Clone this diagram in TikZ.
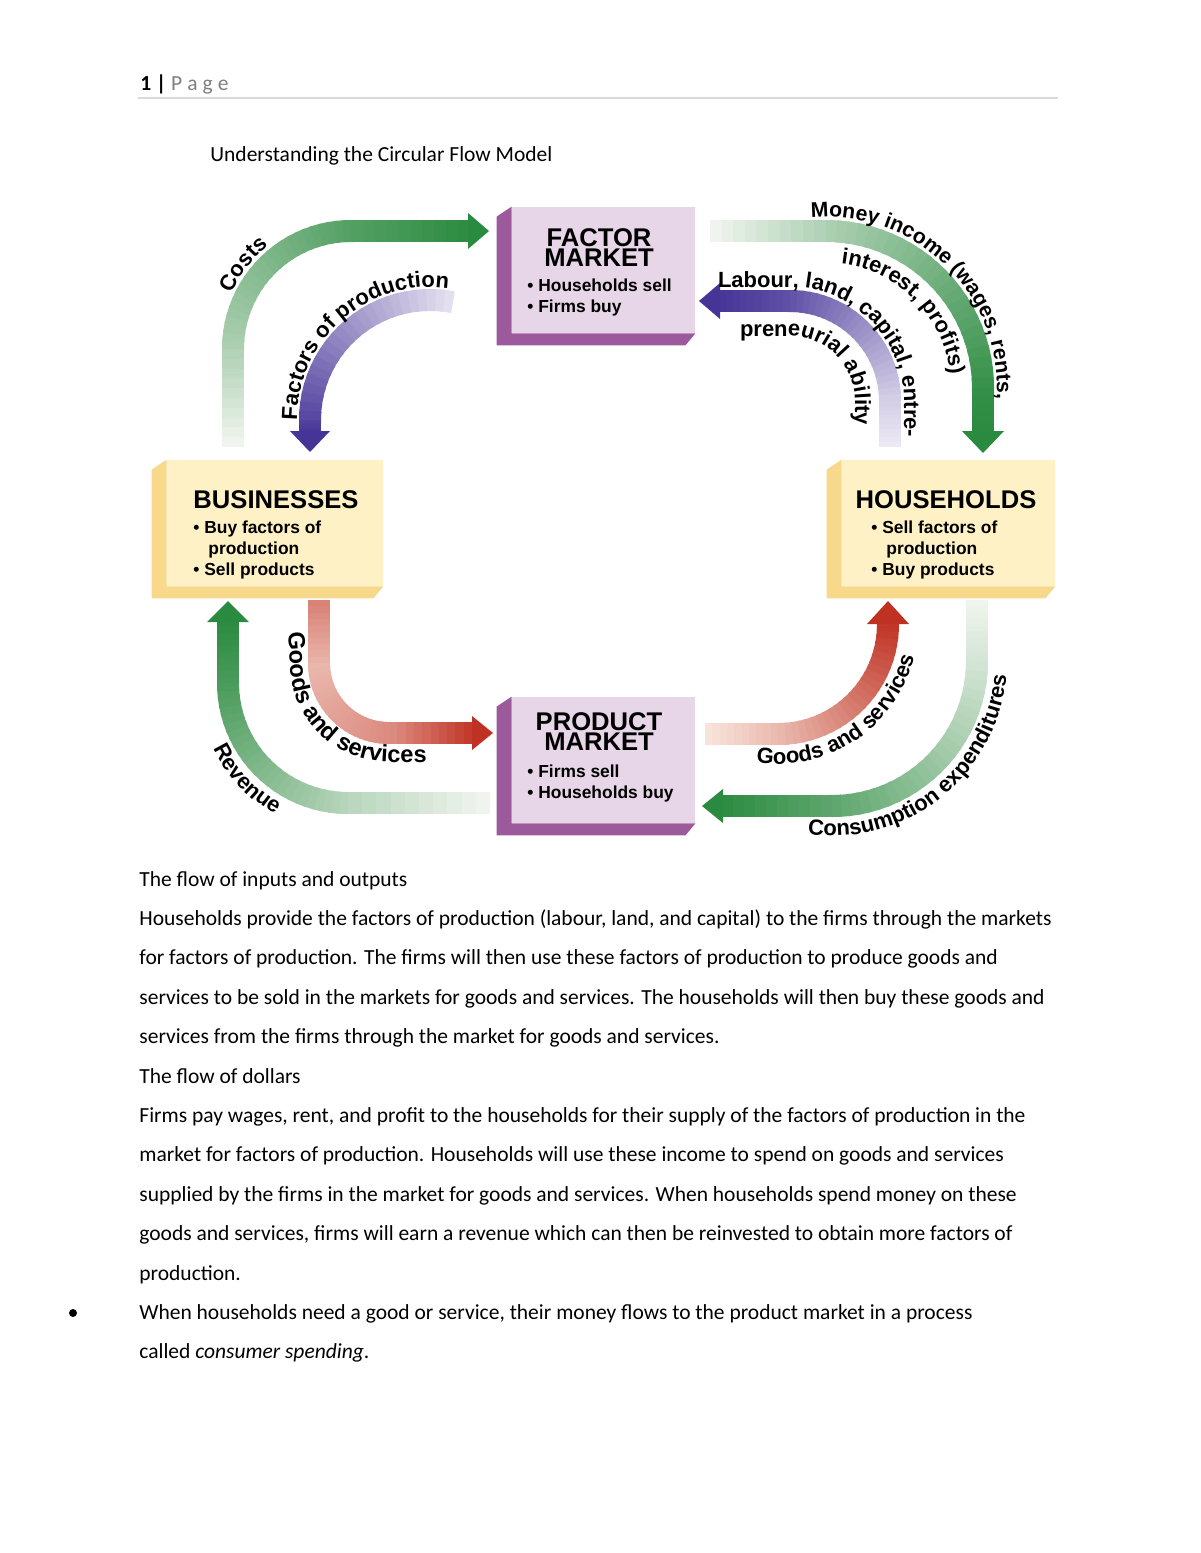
\documentclass[tikz,border=0pt]{standalone}
\usepackage{fontspec}
\setmainfont{Carlito}
\setsansfont{Liberation Sans}
\usetikzlibrary{decorations.text}
\definecolor{grnF}{HTML}{2A8A3F}
\definecolor{grnP}{HTML}{F0F4EE}
\definecolor{purF}{HTML}{463497}
\definecolor{purP}{HTML}{ECE8F4}
\definecolor{redF}{HTML}{BF3223}
\definecolor{redP}{HTML}{F8E3DA}
\definecolor{mktF}{HTML}{E7D5E8}
\definecolor{mktS}{HTML}{9C5A9C}
\definecolor{agtF}{HTML}{FEF1C6}
\definecolor{agtS}{HTML}{F8D98C}
\newcommand\bandarc[9]{%
  \foreach \k in {0,...,23}{%
    \pgfmathsetmacro\bandA{#4+(#5-#4)*\k/24}%
    \pgfmathsetmacro\bandB{#4+(#5-#4)*(\k+1.4)/24}%
    \pgfmathsetmacro\bandP{#8+(#9-#8)*\k/24}%
    \draw[line width=11pt, draw=#7!\bandP!#6] plot[domain=\bandA:\bandB, samples=4, variable=\q] ({#1+#3*cos(\q)},{#2+#3*sin(\q)});
  }}
\newcommand\bandline[8]{%
  \foreach \k in {0,...,9}{%
    \pgfmathsetmacro\bandA{\k/10}%
    \pgfmathsetmacro\bandB{(\k+1.3)/10}%
    \pgfmathsetmacro\bandP{#7+(#8-#7)*\k/10}%
    \draw[line width=11pt, draw=#6!\bandP!#5] ({#1+(#3-#1)*\bandA},{#2+(#4-#2)*\bandA}) -- ({#1+(#3-#1)*\bandB},{#2+(#4-#2)*\bandB});
  }}
\begin{document}
\begin{tikzpicture}[x=0.5pt,y=-0.5pt,
  body/.style={font=\fontsize{10.75}{13}\selectfont, anchor=base west, inner sep=0pt},
  ttl/.style={font=\sffamily\bfseries\fontsize{12.8}{14}\selectfont, inner sep=0pt, anchor=base},
  bul/.style={font=\sffamily\bfseries\fontsize{8.7}{10}\selectfont, inner sep=0pt, anchor=base west},
  mkt/.style={fill=mktF, minimum width=91.5pt, minimum height=63pt, inner sep=0pt},
  agt/.style={fill=agtF, minimum height=63pt, inner sep=0pt},
  txtpath/.style 2 args={decorate, decoration={text along path, text={|\sffamily\bfseries\fontsize{#2}{13}\selectfont|#1}}}
]
\fill[white] (0,0) rectangle (1200,1553);
\useasboundingbox (0,0) rectangle (1200,1553);

% header
\node[body] (pg) at (140,90) {\textbf{1 |} \textcolor{black!50}{P\hspace{2.5pt}a\hspace{2.5pt}g\hspace{2.5pt}e}};
\draw[black!15, line width=0.75pt] (138,98) -- (1058,98);
\node[body] (title) at (210,161) {Understanding the Circular Flow Model};

% boxes
\node[mkt] (fm) at (603.5,270) {};
\fill[mktS] (fm.north west) -- ([shift={(-15,10)}]fm.north west) -- ([shift={(-15,12)}]fm.south west) -- ([shift={(-10,12)}]fm.south east) -- (fm.south east) -- (fm.south west) -- cycle;
\node[mkt] (pm) at (603.5,760) {};
\fill[mktS] (pm.north west) -- ([shift={(-15,10)}]pm.north west) -- ([shift={(-15,12)}]pm.south west) -- ([shift={(-10,12)}]pm.south east) -- (pm.south east) -- (pm.south west) -- cycle;
\node[agt, minimum width=108pt] (bus) at (275,523) {};
\fill[agtS] (bus.north west) -- ([shift={(-15,10)}]bus.north west) -- ([shift={(-15,12)}]bus.south west) -- ([shift={(-10,12)}]bus.south east) -- (bus.south east) -- (bus.south west) -- cycle;
\node[agt, minimum width=106.5pt] (hh) at (948.5,523) {};
\fill[agtS] (hh.north west) -- ([shift={(-15,10)}]hh.north west) -- ([shift={(-15,12)}]hh.south west) -- ([shift={(-10,12)}]hh.south east) -- (hh.south east) -- (hh.south west) -- cycle;

\node[ttl] (fmt1) at (599,246) {FACTOR};
\node[ttl] (fmt2) at (599,266) {MARKET};
\node[bul] (fmb1) at (527,291) {• Households sell};
\node[bul] (fmb2) at (527,312) {• Firms buy};
\node[ttl] (pmt1) at (599,730) {PRODUCT};
\node[ttl] (pmt2) at (599,750) {MARKET};
\node[bul] (pmb1) at (527,777) {• Firms sell};
\node[bul] (pmb2) at (527,798) {• Households buy};
\node[ttl] (bust) at (276,508) {BUSINESSES};
\node[bul] (busb1) at (193,533) {• Buy factors of};
\node[bul] (busb2) at (208,554) {production};
\node[bul] (busb3) at (193,575) {• Sell products};
\node[ttl] (hht) at (946,508) {HOUSEHOLDS};
\node[bul] (hhb1) at (871,533) {• Sell factors of};
\node[bul] (hhb2) at (886,554) {production};
\node[bul] (hhb3) at (871,575) {• Buy products};

% Costs
\bandline{233}{447}{233}{349}{grnP}{grnF}{0}{35}
\bandarc{351}{349}{118}{180}{270}{grnP}{grnF}{35}{80}
\bandline{351}{231}{470}{231}{grnP}{grnF}{80}{100}
\fill[grnF] (489,231) -- (468,213) -- (468,249) -- cycle;
% Factors of production
\bandarc{430}{420}{120}{281}{180}{purP}{purF}{5}{92}
\bandline{310}{420}{310}{433}{purP}{purF}{92}{100}
\fill[purF] (310,452) -- (290,431) -- (330,431) -- cycle;
% Money income
\bandline{710}{231}{826}{231}{grnP}{grnF}{0}{35}
\bandarc{826}{388}{157}{270}{360}{grnP}{grnF}{35}{95}
\bandline{983}{388}{983}{433}{grnP}{grnF}{95}{100}
\fill[grnF] (983,453) -- (962,431) -- (1004,431) -- cycle;
% Labour
\bandline{890}{447}{890}{401}{purP}{purF}{0}{15}
\bandarc{790}{401}{100}{360}{270}{purP}{purF}{15}{85}
\bandline{790}{301}{719}{301}{purP}{purF}{85}{100}
\fill[purF] (699,301) -- (720,283) -- (720,319) -- cycle;
% Goods (left)
\bandline{319}{600}{319}{663}{redP}{redF}{55}{25}
\bandarc{389}{663}{70}{180}{90}{redP}{redF}{25}{50}
\bandline{389}{733}{472}{733}{redP}{redF}{50}{100}
\fill[redF] (493,733) -- (472,716) -- (472,750) -- cycle;
% Revenue
\bandline{490}{803}{348}{803}{grnP}{grnF}{0}{30}
\bandarc{348}{683}{120}{90}{180}{grnP}{grnF}{30}{85}
\bandline{228}{683}{228}{621}{grnP}{grnF}{85}{100}
\fill[grnF] (228,601) -- (207,622) -- (249,622) -- cycle;
% Goods (right)
\bandline{705}{734}{778}{734}{redP}{redF}{0}{25}
\bandarc{778}{624}{110}{90}{0}{redP}{redF}{25}{100}
\fill[redF] (888,601) -- (867,624) -- (909,624) -- cycle;
% Consumption
\bandline{977}{600}{977}{661}{grnP}{grnF}{0}{15}
\bandarc{832}{661}{145}{0}{90}{grnP}{grnF}{15}{75}
\bandline{832}{806}{722}{806}{grnP}{grnF}{75}{100}
\fill[grnF] (702,806) -- (723,789) -- (723,823) -- cycle;

% labels
\path[txtpath={Costs}{11}] plot[domain=205:265, samples=30, variable=\q] ({351+132*cos(\q)},{349+132*sin(\q)});
\path[txtpath={Factors of production}{11}] plot[domain=180:300, samples=60, variable=\q] ({430+133*cos(\q)},{420+133*sin(\q)});
\path[txtpath={Money income (wages, rents,}{10.6}] plot[domain=265:360, samples=60, variable=\q] ({826+171*cos(\q)},{388+171*sin(\q)}) -- (997,470);
\path[txtpath={interest, profits)}{11}] plot[domain=277:375, samples=50, variable=\q] ({826+125*cos(\q)},{388+125*sin(\q)});
\path[txtpath={Labour, land, capital, entre-}{11}] (718,287) -- plot[domain=270:360, samples=50, variable=\q] ({790+114*cos(\q)},{401+114*sin(\q)}) -- (904,470);
\path[txtpath={preneurial ability}{11}] (740,336) -- plot[domain=270:360, samples=40, variable=\q] ({790+65*cos(\q)},{401+65*sin(\q)}) -- (855,470);
\path[txtpath={Goods and services}{11.8}] (288,632) -- plot[domain=180:90, samples=40, variable=\q] ({389+99*cos(\q)},{663+99*sin(\q)}) -- (490,762);
\path[txtpath={Revenue}{11}] plot[domain=154:90, samples=40, variable=\q] ({348+150*cos(\q)},{683+150*sin(\q)});
\path[txtpath={Goods and services}{11}] plot[domain=99:-15, samples=60, variable=\q] ({778+140*cos(\q)},{624+140*sin(\q)});
\path[txtpath={Consumption expenditures}{11}] plot[domain=98:-20, samples=60, variable=\q] ({832+175*cos(\q)},{661+175*sin(\q)});

% body text
\node[body] (l1) at (139,886) {The flow of inputs and outputs};
\node[body] (l2) at (139,925.4) {Households provide the factors of production (labour, land, and capital) to the firms through the markets};
\node[body] (l3) at (139,964.8) {for factors of production. The firms will then use these factors of production to produce goods and};
\node[body] (l4) at (139,1004.2) {services to be sold in the markets for goods and services. The households will then buy these goods and};
\node[body] (l5) at (139,1043.6) {services from the firms through the market for goods and services.};
\node[body] (l6) at (139,1083) {The flow of dollars};
\node[body] (l7) at (139,1122.4) {Firms pay wages, rent, and profit to the households for their supply of the factors of production in the};
\node[body] (l8) at (139,1161.8) {market for factors of production. Households will use these income to spend on goods and services};
\node[body] (l9) at (139,1201.2) {supplied by the firms in the market for goods and services. When households spend money on these};
\node[body] (l10) at (139,1240.6) {goods and services, firms will earn a revenue which can then be reinvested to obtain more factors of};
\node[body] (l11) at (139,1280) {production.};
\fill (73,1313) circle[radius=4];
\node[body] (l12) at (139,1319.4) {When households need a good or service, their money flows to the product market in a process};
\node[body] (l13) at (139,1358.8) {called \textit{consumer spending}.};
\end{tikzpicture}
\end{document}
